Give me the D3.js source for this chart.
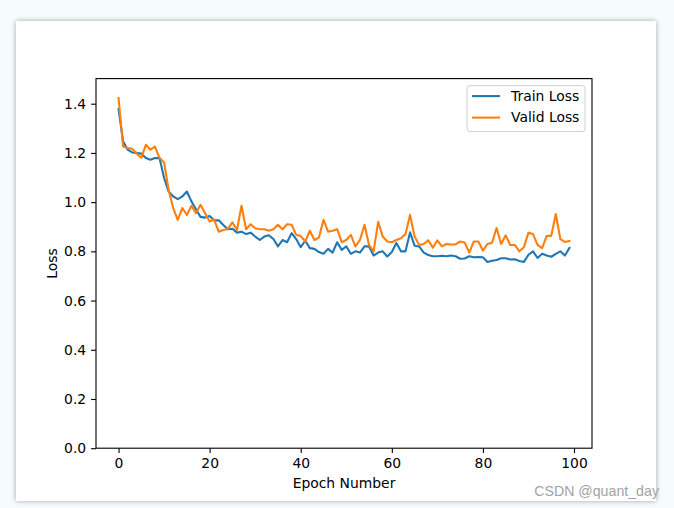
<!DOCTYPE html>
<html>
<head>
<meta charset="utf-8">
<script src="https://cdn.jsdelivr.net/npm/d3@7"></script>
<style>
  body { margin: 0; background: #f6fbfe; overflow: hidden; }
  svg { display: block; }
</style>
</head>
<body>
<svg width="674" height="508"></svg>
<script>
// loss per epoch
var trainLoss = [
  1.378, 1.247, 1.213, 1.202, 1.200, 1.197, 1.179, 1.172, 1.179, 1.179,
  1.098, 1.043, 1.023, 1.012, 1.023, 1.043, 1.003, 0.971, 0.940, 0.937,
  0.944, 0.926, 0.926, 0.907, 0.890, 0.892, 0.876, 0.880, 0.870, 0.876,
  0.860, 0.846, 0.860, 0.865, 0.850, 0.820, 0.846, 0.837, 0.874, 0.850,
  0.817, 0.843, 0.813, 0.810, 0.797, 0.790, 0.810, 0.795, 0.837, 0.806,
  0.820, 0.790, 0.800, 0.795, 0.820, 0.820, 0.783, 0.795, 0.800, 0.779,
  0.797, 0.834, 0.800, 0.800, 0.877, 0.823, 0.820, 0.795, 0.785, 0.780,
  0.780, 0.782, 0.780, 0.783, 0.780, 0.770, 0.771, 0.780, 0.776, 0.777,
  0.776, 0.757, 0.762, 0.765, 0.772, 0.772, 0.767, 0.768, 0.761, 0.757,
  0.786, 0.800, 0.773, 0.790, 0.783, 0.778, 0.790, 0.800, 0.783, 0.814
];
var validLoss = [
  1.423, 1.226, 1.220, 1.217, 1.197, 1.180, 1.233, 1.213, 1.226, 1.179,
  1.161, 1.050, 0.976, 0.928, 0.976, 0.948, 0.985, 0.955, 0.989, 0.955,
  0.921, 0.928, 0.880, 0.887, 0.891, 0.918, 0.887, 0.985, 0.890, 0.910,
  0.894, 0.890, 0.890, 0.884, 0.890, 0.908, 0.890, 0.910, 0.908, 0.867,
  0.862, 0.840, 0.884, 0.846, 0.856, 0.928, 0.880, 0.884, 0.890, 0.837,
  0.846, 0.867, 0.820, 0.846, 0.908, 0.826, 0.800, 0.920, 0.860, 0.840,
  0.837, 0.846, 0.853, 0.870, 0.948, 0.860, 0.826, 0.830, 0.845, 0.815,
  0.845, 0.820, 0.830, 0.828, 0.828, 0.840, 0.836, 0.795, 0.840, 0.840,
  0.803, 0.830, 0.835, 0.895, 0.830, 0.865, 0.826, 0.826, 0.800, 0.817,
  0.876, 0.870, 0.826, 0.813, 0.863, 0.863, 0.952, 0.850, 0.838, 0.842
];
var seriesNames = ['Train Loss', 'Valid Loss'];
var seriesColors = ['#1f77b4', '#ff7f0e'];
var xTicks = [0, 20, 40, 60, 80, 100];
var yTicks = [0, 0.2, 0.4, 0.6, 0.8, 1.0, 1.2, 1.4];

var svg = d3.select('svg');
var font = 'DejaVu Sans, sans-serif';

// figure panel (640x480 matplotlib figure) with a soft shadow
var defs = svg.append('defs');
var f = defs.append('filter').attr('id', 'shadow')
  .attr('x', '-5%').attr('y', '-5%').attr('width', '110%').attr('height', '110%');
f.append('feDropShadow').attr('dx', 0).attr('dy', 0).attr('stdDeviation', 2.5)
  .attr('flood-color', '#000').attr('flood-opacity', 0.35);

var fig = {x: 16, y: 21, w: 640, h: 480};
svg.append('rect')
  .attr('x', fig.x).attr('y', fig.y).attr('width', fig.w).attr('height', fig.h)
  .attr('fill', '#fff').attr('filter', 'url(#shadow)');

var margin = {left: 80, right: 64, top: 57.6, bottom: 52.8};
var innerWidth = fig.w - margin.left - margin.right;
var innerHeight = fig.h - margin.top - margin.bottom;

var xScale = d3.scaleLinear().domain([-4.95, 103.95]).range([0, innerWidth]);
var yScale = d3.scaleLinear().domain([0, 1.502]).range([innerHeight, 0]);

var g = svg.append('g')
  .attr('transform', 'translate(' + (fig.x + margin.left) + ',' + (fig.y + margin.top) + ')');

// axes
var xAxis = d3.axisBottom(xScale).tickValues(xTicks).tickFormat(d3.format('d'))
  .tickSizeInner(4.9).tickSizeOuter(0).tickPadding(4.9);
var yAxis = d3.axisLeft(yScale).tickValues(yTicks).tickFormat(d3.format('.1f'))
  .tickSizeInner(4.9).tickSizeOuter(0).tickPadding(4.9);

var gx = g.append('g').attr('transform', 'translate(0,' + innerHeight + ')').call(xAxis);
var gy = g.append('g').call(yAxis);
[gx, gy].forEach(function(a) {
  a.select('.domain').remove();
  a.selectAll('line').attr('stroke', '#000').attr('stroke-width', 1.1);
  a.selectAll('text').attr('fill', '#000').style('font-family', font).style('font-size', '13.9px');
});

// lines
var line = d3.line().x(function(d, i) { return xScale(i); }).y(function(d) { return yScale(d); });
[trainLoss, validLoss].forEach(function(s, k) {
  g.append('path').datum(s)
    .attr('fill', 'none')
    .attr('stroke', seriesColors[k])
    .attr('stroke-width', 2.1)
    .attr('stroke-linejoin', 'round')
    .attr('stroke-linecap', 'square')
    .attr('d', line);
});

// spines
g.append('rect').attr('width', innerWidth).attr('height', innerHeight)
  .attr('fill', 'none').attr('stroke', '#000').attr('stroke-width', 1.1);

// axis labels
g.append('text').attr('x', innerWidth / 2).attr('y', innerHeight + 40)
  .attr('text-anchor', 'middle').style('font-family', font).style('font-size', '13.9px')
  .text('Epoch Number');
g.append('text').attr('transform', 'translate(' + (-39) + ',' + (innerHeight / 2) + ') rotate(-90)')
  .attr('text-anchor', 'middle').style('font-family', font).style('font-size', '13.9px')
  .text('Loss');

// legend
var lg = g.append('g').attr('transform', 'translate(' + (innerWidth - 125) + ',7)');
lg.append('rect').attr('width', 118).attr('height', 46).attr('rx', 3)
  .attr('fill', '#fff').attr('fill-opacity', 0.8).attr('stroke', '#d0d0d0').attr('stroke-width', 1);
seriesNames.forEach(function(name, k) {
  var yy = 10.5 + k * 21.5;
  lg.append('line').attr('x1', 5).attr('x2', 33).attr('y1', yy).attr('y2', yy)
    .attr('stroke', seriesColors[k]).attr('stroke-width', 2.1);
  lg.append('text').attr('x', 44).attr('y', yy).attr('dy', '0.35em')
    .style('font-family', font).style('font-size', '13.9px').text(name);
});

// watermark
svg.append('text').attr('x', 659).attr('y', 496).attr('text-anchor', 'end')
  .style('font-family', 'Liberation Sans, Arial, sans-serif').style('font-size', '14.2px')
  .attr('fill', '#a3a3a3').text('CSDN @quant_day');
</script>
</body>
</html>
